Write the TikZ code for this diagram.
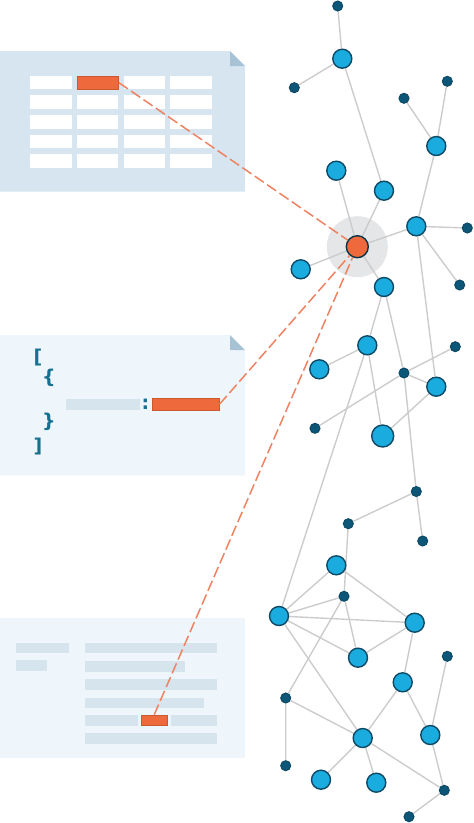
\documentclass[tikz,border=0pt]{standalone}
\usepackage{fontspec}
\usepackage{tikz}
\usetikzlibrary{backgrounds}
\newfontfamily\brackfont{DejaVu Sans}
\definecolor{hubblue}{HTML}{1AABDF}
\definecolor{hubedge}{HTML}{0E4A66}
\definecolor{leafblue}{HTML}{0C5677}
\definecolor{linkgray}{HTML}{CCCCCC}
\definecolor{haloGray}{HTML}{E5E6E8}
\definecolor{coreorange}{HTML}{EE693B}
\definecolor{tracered}{HTML}{EE8261}
\definecolor{sheetdark}{HTML}{D6E5F0}
\definecolor{sheetlight}{HTML}{EEF6FC}
\definecolor{foldblue}{HTML}{A8C2D5}
\definecolor{barblue}{HTML}{D6E4EE}
\definecolor{brackteal}{HTML}{17708F}

\begin{document}
\begin{tikzpicture}[x=1pt, y=-1pt]
  \tikzset{hub/.style={circle, draw=hubedge, line width=1.4pt, fill=hubblue, minimum size=19pt, inner sep=0pt},
    bighub/.style={hub, minimum size=22pt},
    leaf/.style={circle, draw=hubedge, line width=1pt, fill=leafblue, minimum size=10pt, inner sep=0pt},
    core/.style={circle, draw=hubedge!70!black, line width=1.4pt, fill=coreorange, minimum size=22pt, inner sep=0pt},
    link/.style={draw=linkgray, line width=1.4pt},
    trace/.style={draw=tracered, line width=1.5pt, dash pattern=on 11pt off 4pt},
    bar/.style={fill=barblue, inner sep=0pt},
    pick/.style={fill=coreorange, draw=coreorange!85!black, line width=0.5pt, inner sep=0pt},
    brack/.style={text=brackteal, font=\brackfont\bfseries\fontsize{19}{19}\selectfont, inner sep=0pt}}
  \useasboundingbox (0,0) rectangle (474,823);
  % top: table sheet
  \fill[sheetdark] (0,51) -- (230,51) -- (245,66) -- (245,191.7) -- (0,191.7) -- cycle;
  \fill[foldblue] (230,51) -- (230,66) -- (245,66) -- cycle;
  \foreach \i in {0,...,3}
    \foreach \j in {0,...,4}
      \fill[white] (30+46.8*\i,75.7+19.6*\j) rectangle ++(41.5,13.7);
  \node[pick, minimum width=41.5pt, minimum height=13.7pt] (tcell) at (97.8,82.6) {};
  % middle: json sheet
  \fill[sheetlight] (0,335) -- (230,335) -- (245,350) -- (245,475.7) -- (0,475.7) -- cycle;
  \fill[foldblue] (230,335) -- (230,350) -- (245,350) -- cycle;
  \node[brack] (ob) at (38,358) {[};
  \node[brack] (oc) at (49,378) {\{};
  \node[brack] (cc) at (49,421.7) {\}};
  \node[brack] (cb) at (38,447) {]};
  \node[bar, minimum width=74pt, minimum height=11pt] (jkey) at (103,404.5) {};
  \node[brack] (colon) at (145.3,404) {:};
  \node[pick, minimum width=67pt, minimum height=11.7pt] (jval) at (185.8,404.2) {};
  % bottom: form sheet
  \fill[sheetlight] (0,618.3) rectangle (245,758.3);
  \fill[barblue] (15.7,642.7) rectangle ++(53.6,10.6);
  \fill[barblue] (15.7,660) rectangle ++(31,10.7);
  \fill[barblue] (85,642.7) rectangle ++(132.3,10.6);
  \fill[barblue] (85,661) rectangle ++(100,10.7);
  \fill[barblue] (85,679.3) rectangle ++(132.3,10.7);
  \fill[barblue] (85,697.7) rectangle ++(119,10.6);
  \fill[barblue] (85,715) rectangle ++(53.3,10.7);
  \fill[barblue] (170.7,715) rectangle ++(46.6,10.7);
  \fill[barblue] (85,733.3) rectangle ++(132.3,10.7);
  \node[pick, minimum width=26.3pt, minimum height=10.7pt] (fcell) at (154.2,720.3) {};
  % right: graph
  \node[core] (core) at (357.3,246.7) {};
  \node[leaf] (l1) at (337.7,6) {};
  \node[leaf] (l2) at (294.3,87.7) {};
  \node[leaf] (l3) at (404,98.3) {};
  \node[leaf] (l4) at (447.3,81.3) {};
  \node[leaf] (l5) at (467.3,228) {};
  \node[leaf] (l6) at (459.7,285) {};
  \node[leaf] (l7) at (455.3,346.7) {};
  \node[leaf] (l8) at (404,373) {};
  \node[leaf] (l9) at (315,428.3) {};
  \node[leaf] (l10) at (416.3,491.5) {};
  \node[leaf] (l11) at (348.3,523.7) {};
  \node[leaf] (l12) at (422.7,541) {};
  \node[leaf] (l13) at (344,596.3) {};
  \node[leaf] (l14) at (447.3,656.3) {};
  \node[leaf] (l15) at (285.7,698) {};
  \node[leaf] (l16) at (285.7,765.7) {};
  \node[leaf] (l17) at (444.3,790.3) {};
  \node[leaf] (l18) at (409,816.7) {};
  \node[hub] (h1) at (342.3,58.7) {};
  \node[hub] (h2) at (436.3,146) {};
  \node[hub] (h3) at (336.3,170.7) {};
  \node[hub] (h4) at (384,190.7) {};
  \node[hub] (h5) at (416.3,226.3) {};
  \node[hub] (h6) at (300.7,269.3) {};
  \node[hub] (h7) at (384,287) {};
  \node[hub] (h8) at (367.3,345.3) {};
  \node[hub] (h9) at (319.3,369.3) {};
  \node[hub] (h10) at (436.3,386.7) {};
  \node[bighub] (h11) at (382.7,436) {};
  \node[hub] (h12) at (336.3,565.3) {};
  \node[hub] (h13) at (279,616) {};
  \node[hub] (h14) at (414.7,622.7) {};
  \node[hub] (h15) at (358,657.7) {};
  \node[hub] (h16) at (402.7,682.3) {};
  \node[hub] (h17) at (430.3,735) {};
  \node[hub] (h18) at (362.7,738) {};
  \node[hub] (h19) at (321,779.7) {};
  \node[hub] (h20) at (376.3,782.7) {};
  \begin{scope}[on background layer]
    \node[circle, fill=haloGray, minimum size=61pt] (halo) at (core) {};
    \draw[link] (l1) -- (h1) (h1) -- (l2) (h1) -- (h4) (l3) -- (h2) (l4) -- (h2) (h2) -- (h5);
    \draw[link] (h3) -- (core) (h4) -- (core) (h5) -- (core) (core) -- (h6) (core) -- (h7);
    \draw[link] (h5) -- (l5) (h5) -- (l6) (h5) -- (h10);
    \draw[link] (h7) -- (h8) (h7) -- (l8) (h8) -- (h9) (h8) -- (h11) (h8) -- (h13);
    \draw[link] (l7) -- (l8) (l8) -- (l9) (l8) -- (h10) (h10) -- (h11) (l8) -- (l10);
    \draw[link] (l10) -- (l11) (l10) -- (l12) (l11) -- (l13);
    \draw[link] (h12) -- (h13) (h12) -- (h14) (l13) -- (h13) (l13) -- (h15) (l13) -- (l15);
    \draw[link] (h13) -- (h14) (h13) -- (h15) (h13) -- (h18) (h14) -- (h15) (h14) -- (h16);
    \draw[link] (l14) -- (h17) (h16) -- (h18) (h16) -- (h17) (l15) -- (h18) (l15) -- (l16);
    \draw[link] (h18) -- (h19) (h18) -- (h20) (h18) -- (l17) (h17) -- (l17) (l17) -- (l18);
  \end{scope}
  % dashed traces
  \draw[trace] (tcell.east) -- (core);
  \draw[trace] (jval.east) -- (core);
  \draw[trace] (fcell.north) -- (core);
\end{tikzpicture}
\end{document}
